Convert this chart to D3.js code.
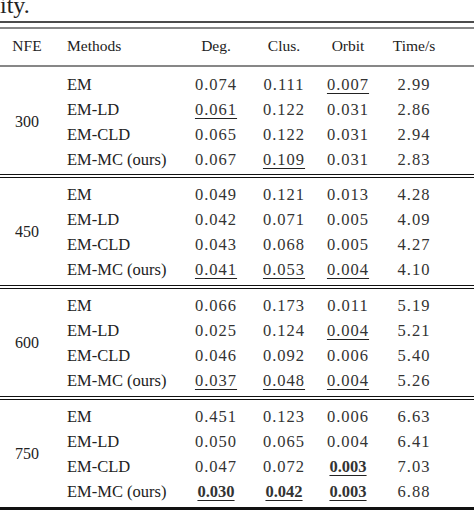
<!DOCTYPE html>
<html><head><meta charset="utf-8">
<script src="https://cdn.jsdelivr.net/npm/d3@7"></script>
<style>body{margin:0;background:#fff}</style></head>
<body><svg id="t" width="474" height="511"></svg>
<script>
const nfe = [300, 450, 600, 750];
const methods = ["EM", "EM-LD", "EM-CLD", "EM-MC (ours)"];
const headers = ["NFE", "Methods", "Deg.", "Clus.", "Orbit", "Time/s"];
const deg = ["0.074","0.061","0.065","0.067","0.049","0.042","0.043","0.041","0.066","0.025","0.046","0.037","0.451","0.050","0.047","0.030"];
const clus = ["0.111","0.122","0.122","0.109","0.121","0.071","0.068","0.053","0.173","0.124","0.092","0.048","0.123","0.065","0.072","0.042"];
const orbit = ["0.007","0.031","0.031","0.031","0.013","0.005","0.005","0.004","0.011","0.004","0.006","0.004","0.006","0.004","0.003","0.003"];
const time = ["2.99","2.86","2.94","2.83","4.28","4.09","4.27","4.10","5.19","5.21","5.40","5.26","6.63","6.41","7.03","6.88"];
// u = underline, b = bold+underline, per column (deg, clus, orbit)
const marks = [
  ["","","u"],["u","",""],["","",""],["","u",""],
  ["","",""],["","",""],["","",""],["u","u","u"],
  ["","",""],["","","u"],["","",""],["u","u","u"],
  ["","",""],["","",""],["","","b"],["b","b","b"]
];

const svg = d3.select("#t");
const font = "'Liberation Serif', 'Times New Roman', serif";
const colX = [27, 67, 216, 284, 348, 414];
const groupTop = d3.scaleOrdinal().domain(nfe).range([66, 176, 287, 398]);
const rowY = d3.scaleLinear().domain([0, 3]).range([84, 159]);

svg.append("text").attr("x", 0).attr("y", 13).attr("font-family", font)
  .attr("font-size", 24).attr("fill", "#222").text("ity.");

const rule = (y, w) => svg.append("line").attr("x1", 0).attr("x2", 474)
  .attr("y1", y).attr("y2", y).attr("stroke", "#111").attr("stroke-width", w);
rule(22, 1.6); rule(28, 1.2); rule(66, 1.2);
nfe.slice(1).forEach(n => { rule(groupTop(n) - 1.5, 1); rule(groupTop(n) + 1.5, 1); });
rule(508.5, 3);

svg.selectAll(".h").data(headers).join("text")
  .attr("x", (d, i) => colX[i]).attr("y", 51)
  .attr("text-anchor", (d, i) => i === 1 ? "start" : "middle")
  .attr("font-family", font).attr("font-size", 15.5).attr("fill", "#222").text(d => d);

const rows = d3.range(16).map(i => ({
  g: Math.floor(i / 4), r: i % 4,
  vals: [deg[i], clus[i], orbit[i]], t: time[i], m: marks[i]
}));
const y = d => groupTop(nfe[d.g]) - 66 + rowY(d.r) + 5.5;

svg.selectAll(".nfe").data(nfe).join("text")
  .attr("x", colX[0]).attr("y", d => groupTop(d) - 66 + (rowY(1) + rowY(2)) / 2 + 5.5)
  .attr("text-anchor", "middle").attr("font-family", font).attr("font-size", 16)
  .attr("fill", "#222").text(d => d);

svg.selectAll(".m").data(rows).join("text")
  .attr("x", colX[1]).attr("y", y).attr("font-family", font).attr("font-size", 16.5)
  .attr("fill", "#222").text(d => methods[d.r]);

rows.forEach(d => {
  d.vals.forEach((v, j) => {
    const mk = d.m[j];
    const tx = svg.append("text").attr("x", colX[2 + j]).attr("y", y(d))
      .attr("text-anchor", "middle").attr("font-family", font).attr("font-size", 16.5)
      .attr("font-weight", mk === "b" ? "bold" : "normal").attr("fill", "#333")
      .attr("letter-spacing", mk === "b" ? 0 : 1).text(v);
    if (mk) {
      const w = tx.node().getComputedTextLength();
      svg.append("line").attr("x1", colX[2 + j] - w / 2).attr("x2", colX[2 + j] + w / 2)
        .attr("y1", y(d) + 4).attr("y2", y(d) + 4).attr("stroke", "#222").attr("stroke-width", 1);
    }
  });
  svg.append("text").attr("x", colX[5]).attr("y", y(d)).attr("text-anchor", "middle")
    .attr("font-family", font).attr("font-size", 16.5).attr("fill", "#333")
    .attr("letter-spacing", 1).text(d.t);
});
</script></body></html>
